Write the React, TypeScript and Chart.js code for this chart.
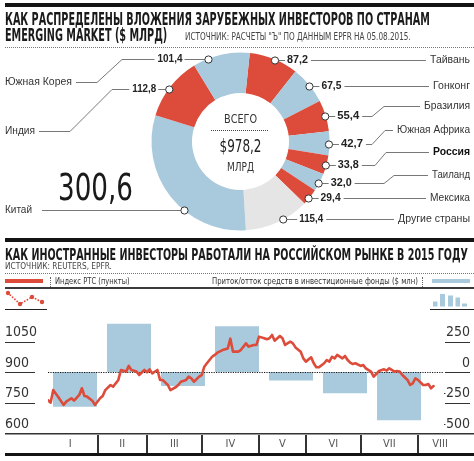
import React, { useEffect, useLayoutEffect, useRef, useState } from 'react';
import { Chart, registerables } from 'chart.js';

Chart.register(...registerables);

// ---------------- data ----------------
const countries = ['Тайвань', 'Гонконг', 'Бразилия', 'Южная Африка', 'Россия', 'Таиланд', 'Мексика', 'Другие страны', 'Китай', 'Индия', 'Южная Корея'];
const investments = [87.2, 67.5, 55.4, 42.7, 33.8, 32.0, 29.4, 115.4, 300.6, 112.8, 101.4];
const totalInvestment = 978.2;

const monthLabels = ['I', 'II', 'III', 'IV', 'V', 'VI', 'VII', 'VIII'];
// trading-day index where each month starts (last entry closes VIII)
const monthBoundaryDays = [-2, 19, 38, 59, 81, 99, 120, 142, 159];
const flowMonths = [0, 1, 2, 3, 4, 5, 6];
const fundFlows = [-285, 395, -115, 375, -70, -175, -395];

const rtsDay = [
  0, 1, 2, 4, 6, 7, 9, 10, 12, 13,
  14, 15, 17, 18, 20, 21, 22, 24, 25, 27,
  28, 30, 31, 32, 34, 35, 37, 38, 39, 40,
  42, 43, 44, 46, 47, 49, 50, 51, 53, 54,
  55, 56, 58, 59, 60, 61, 63, 64, 65, 67,
  69, 70, 71, 73, 74, 76, 77, 79, 80, 81,
  83, 84, 85, 86, 87, 89, 90, 91, 93, 94,
  95, 97, 98, 99, 101, 102, 103, 104, 106, 107,
  108, 109, 110, 111, 113, 114, 115, 116, 117, 118,
  120, 121, 122, 124, 125, 126, 127, 129, 130, 131,
  133, 134, 135, 136, 138, 139, 140, 141, 142, 144,
  145, 146, 147, 148,
];
const rtsValue = [
  762, 749, 811, 776, 738, 754, 771, 759, 787, 820,
  782, 779, 759, 738, 771, 782, 811, 836, 828, 861,
  910, 902, 930, 910, 902, 885, 910, 898, 913, 893,
  910, 861, 861, 836, 811, 825, 836, 852, 861, 877,
  869, 852, 877, 885, 926, 943, 975, 984, 995, 1008,
  1016, 1064, 1000, 1000, 1008, 1041, 1025, 1033, 1033, 1074,
  1066, 1061, 1066, 1082, 1054, 1077, 1066, 1033, 1049, 1041,
  1021, 1000, 967, 951, 972, 943, 923, 923, 943, 959,
  951, 975, 967, 984, 967, 979, 959, 946, 939, 943,
  930, 934, 918, 902, 877, 890, 905, 913, 907, 918,
  902, 905, 902, 885, 861, 836, 844, 869, 861, 836,
  836, 841, 820, 831,
];
const rtsTicks = [600, 750, 900, 1050];
const flowTicks = [-500, -250, 0, 250];

// ---------------- styles ----------------
const RED = 'rgb(221,76,58)';
const BLUE = 'rgb(169,201,220)';
const GRAY = 'rgb(229,229,229)';
const sliceColors = [RED, BLUE, RED, BLUE, RED, BLUE, RED, GRAY, BLUE, RED, BLUE];
const NARROW = '"Liberation Sans Narrow", "DejaVu Sans Condensed", "Arial Narrow", sans-serif';
const SANS = '"Liberation Sans", Arial, sans-serif';

type LabelLayout = {
  side: 'L' | 'R'; y: number; nameY: number; nameW: number; valW?: number;
  bend?: [number, number]; gap?: number; bold?: boolean; big?: boolean; nameGap?: number;
};
// label layout per slice, same order as countries
const donutLabels: LabelLayout[] = [
  { side: 'R', y: 60, nameY: 60, nameW: 40, valW: 21 },
  { side: 'R', y: 86, nameY: 86, nameW: 37, valW: 20 },
  { side: 'R', y: 116, nameY: 106, bend: [372, 384], nameW: 46, valW: 22 },
  { side: 'R', y: 144, nameY: 130, bend: [372, 385], nameW: 73, valW: 22 },
  { side: 'R', y: 165, nameY: 152, bend: [375, 386], nameW: 37, valW: 21, bold: true },
  { side: 'R', y: 183, nameY: 175, bend: [384, 394], nameW: 38, valW: 21 },
  { side: 'R', y: 198, nameY: 198, nameW: 40, valW: 20 },
  { side: 'R', y: 219, nameY: 219, nameW: 72, valW: 24, gap: 16 },
  { side: 'L', y: 210, nameY: 210, nameW: 27, big: true, nameGap: 10 },
  { side: 'L', y: 89, nameY: 131, bend: [112, 70], nameW: 30, valW: 24, gap: 13 },
  { side: 'L', y: 59, nameY: 82, bend: [122, 97], nameW: 67, valW: 25, gap: 26 },
];

const fmt = (v: number) => v.toFixed(1).replace('.', ',');

function drawText(ctx: CanvasRenderingContext2D, text: string, x: number, y: number,
  o: { font: string; color: string; align: 'left' | 'right' | 'center'; width?: number }) {
  ctx.save();
  ctx.font = o.font;
  ctx.fillStyle = o.color;
  ctx.textBaseline = 'middle';
  ctx.textAlign = 'left';
  const nat = ctx.measureText(text).width;
  const sx = o.width ? o.width / nat : 1;
  const w = nat * sx;
  const left = o.align === 'left' ? x : o.align === 'right' ? x - w : x - w / 2;
  ctx.translate(left, y);
  ctx.scale(sx, 1);
  ctx.fillText(text, 0, 0);
  ctx.restore();
  return w;
}

function poly(ctx: CanvasRenderingContext2D, pts: number[][]) {
  ctx.beginPath();
  ctx.moveTo(pts[0][0], pts[0][1] + 0.5);
  for (let i = 1; i < pts.length; i++) ctx.lineTo(pts[i][0], pts[i][1] + 0.5);
  ctx.stroke();
}

const donutLabelPlugin = {
  id: 'donutLabels',
  afterDraw(chart: any) {
    const ctx: CanvasRenderingContext2D = chart.ctx;
    const arcs = chart.getDatasetMeta(0).data;
    if (!arcs.length) return;
    const a0 = arcs[0];
    const cx = a0.x, cy = a0.y, R = a0.outerRadius;

    // center
    drawText(ctx, 'ВСЕГО', cx, 120, { font: `12px ${NARROW}`, color: '#333', align: 'center', width: 33 });
    ctx.save();
    ctx.strokeStyle = '#444'; ctx.lineWidth = 1; ctx.setLineDash([1, 1]);
    ctx.beginPath(); ctx.moveTo(211, 130.5); ctx.lineTo(268, 130.5); ctx.stroke();
    ctx.restore();
    drawText(ctx, '$' + fmt(totalInvestment), cx, 147, { font: `18px ${NARROW}`, color: '#222', align: 'center', width: 42 });
    drawText(ctx, 'МЛРД', cx, 168, { font: `12px ${NARROW}`, color: '#333', align: 'center', width: 27 });

    const rm = R - 0.5;
    ctx.save();
    ctx.strokeStyle = '#777';
    ctx.lineWidth = 1;
    donutLabels.forEach((L, i) => {
      const dy = L.y - cy;
      const dx = Math.sqrt(Math.max(rm * rm - dy * dy, 0));
      const mx = L.side === 'R' ? cx + dx : cx - dx;
      const val = fmt(investments[i]);
      const nameFont = `${L.bold ? 'bold ' : ''}11.5px ${SANS}`;
      const nameColor = L.bold ? '#111' : '#333';
      const valFont = `bold 11.5px ${SANS}`;
      if (L.side === 'R') {
        const vx = mx + (L.gap ?? 12);
        poly(ctx, [[mx, L.y], [vx - 2, L.y]]);
        const vw = drawText(ctx, val, vx, L.y, { font: valFont, color: '#222', align: 'left', width: L.valW });
        const nameX = 470 - L.nameW;
        const pts: number[][] = [[vx + vw + 3, L.y]];
        if (L.bend) { pts.push([L.bend[0], L.y]); pts.push([L.bend[1], L.nameY]); }
        pts.push([nameX - 4, L.nameY]);
        poly(ctx, pts);
        drawText(ctx, countries[i], 470, L.nameY, { font: nameFont, color: nameColor, align: 'right', width: L.nameW });
      } else if (L.big) {
        drawText(ctx, countries[i], 5, L.nameY, { font: nameFont, color: nameColor, align: 'left', width: L.nameW });
        poly(ctx, [[5 + L.nameW + (L.nameGap ?? 4), L.y], [mx, L.y]]);
        drawText(ctx, val, 58, 190, { font: `37px ${NARROW}`, color: '#1a1a1a', align: 'left', width: 75 });
      } else {
        const vr = mx - (L.gap ?? 12);
        poly(ctx, [[mx, L.y], [vr + 2, L.y]]);
        const vw = drawText(ctx, val, vr, L.y, { font: valFont, color: '#222', align: 'right', width: L.valW });
        const pts: number[][] = [[vr - vw - 3, L.y]];
        if (L.bend) { pts.push([L.bend[0], L.y]); pts.push([L.bend[1], L.nameY]); }
        pts.push([5 + L.nameW + 4, L.nameY]);
        poly(ctx, pts);
        drawText(ctx, countries[i], 5, L.nameY, { font: nameFont, color: nameColor, align: 'left', width: L.nameW });
      }
      ctx.save();
      ctx.fillStyle = '#fff'; ctx.strokeStyle = '#333'; ctx.lineWidth = 1;
      ctx.beginPath(); ctx.arc(mx, L.y + 0.5, 3.6, 0, Math.PI * 2); ctx.fill(); ctx.stroke();
      ctx.restore();
    });
    ctx.restore();
  },
};

const barDecorPlugin = {
  id: 'barDecor',
  beforeDatasetDraw(chart: any, args: any) {
    if (args.index !== 0) return;
    const { ctx, chartArea } = chart;
    const y0 = Math.round(chart.scales.y1.getPixelForValue(0)) + 0.5;
    ctx.save();
    ctx.strokeStyle = '#1a1a1a'; ctx.lineWidth = 1.2; ctx.setLineDash([1.2, 1.2]);
    ctx.beginPath(); ctx.moveTo(chartArea.left, y0); ctx.lineTo(chartArea.right, y0); ctx.stroke();
    ctx.restore();
  },
  afterDraw(chart: any) {
    const { ctx } = chart;
    const yS = chart.scales.y, y1S = chart.scales.y1, x2 = chart.scales.x2;
    ctx.save();
    ctx.fillStyle = '#333';
    rtsTicks.forEach((v) => { if (v === yS.min) return; const p = Math.round(yS.getPixelForValue(v)); ctx.fillRect(5, p, 30, 1); });
    flowTicks.forEach((v) => { if (v === y1S.min) return; const p = Math.round(y1S.getPixelForValue(v)); ctx.fillRect(445, p, 25, 1); });
    const base = Math.round(yS.getPixelForValue(yS.min));
    ctx.fillRect(5, base, 469, 1.5);
    for (let i = 1; i < monthBoundaryDays.length - 1; i++) {
      const x = Math.round(x2.getPixelForValue(monthBoundaryDays[i]));
      ctx.fillRect(x - 1, base + 2, 2, 18);
    }
    ctx.fillStyle = '#141414';
    ctx.fillRect(5, base + 20, 469, 3);
    ctx.restore();
  },
};

function FitText({ x, base, size, w, bold, color = '#222', family = NARROW, children }: any) {
  const ref = useRef<HTMLSpanElement>(null);
  const [sx, setSx] = useState(1);
  useLayoutEffect(() => {
    const el = ref.current;
    if (el && el.offsetWidth > 0) setSx(w / el.offsetWidth);
  }, [w]);
  return (
    <span ref={ref} style={{
      position: 'absolute', left: x, top: base - 0.8465 * size, fontFamily: family, fontSize: size,
      lineHeight: `${size}px`, fontWeight: bold ? 700 : 400, color, whiteSpace: 'nowrap',
      transform: `scaleX(${sx})`, transformOrigin: '0 0', display: 'block',
    }}>{children}</span>
  );
}

const box = (left: number, top: number, width: number, height: number, background: string) => (
  <div style={{ position: 'absolute', left, top, width, height, background }} />
);

export default function App() {
  const donutRef = useRef<HTMLCanvasElement>(null);
  const barRef = useRef<HTMLCanvasElement>(null);

  useEffect(() => {
    const donut = new Chart(donutRef.current!, {
      type: 'doughnut',
      data: {
        labels: countries,
        datasets: [{ data: investments, backgroundColor: sliceColors, borderWidth: 0, hoverOffset: 0, offset: 0 }],
      },
      options: {
        responsive: false, animation: false, events: [],
        rotation: 6, cutout: '54.5%',
        layout: { padding: { left: 151.5, right: 144.5, top: 52.5, bottom: 230.5 } },
        plugins: { legend: { display: false }, tooltip: { enabled: false } },
      },
      plugins: [donutLabelPlugin],
    } as any);

    const lineData = rtsDay.map((d, i) => ({ x: d, y: rtsValue[i] }));
    const barData = flowMonths.map((m, i) => ({ x: m, y: fundFlows[i] }));
    const combo = new Chart(barRef.current!, {
      type: 'bar',
      data: {
        datasets: [
          {
            type: 'line', label: 'Индекс РТС (пункты)', data: lineData, xAxisID: 'x2', yAxisID: 'y',
            borderColor: RED, borderWidth: 2.6, pointRadius: 0, tension: 0, fill: false,
            borderJoinStyle: 'round', borderCapStyle: 'round',
          },
          {
            type: 'bar', label: 'Приток/отток средств в инвестиционные фонды ($ млн)', data: barData,
            xAxisID: 'xb', yAxisID: 'y1', backgroundColor: BLUE, borderWidth: 0,
            grouped: false, barPercentage: 0.815, categoryPercentage: 1,
          },
        ],
      },
      options: {
        responsive: false, animation: false, events: [],
        layout: { padding: { left: 5, right: 4, top: 311, bottom: 8 } },
        plugins: { legend: { display: false }, tooltip: { enabled: false } },
        scales: {
          x2: {
            type: 'linear', position: 'bottom', min: 0, max: 152, offset: false,
            grid: { display: false, drawTicks: false, offset: false }, border: { display: false },
            afterBuildTicks: (s: any) => {
              s.ticks = monthLabels.map((_, i) => ({ value: (monthBoundaryDays[i] + monthBoundaryDays[i + 1]) / 2 }));
            },
            afterFit: (s: any) => { s.height = 20; },
            ticks: {
              autoSkip: false, maxRotation: 0, minRotation: 0, padding: 6, color: '#555',
              font: { family: NARROW, size: 11, lineHeight: 1 },
              callback: (_v: any, i: number) => monthLabels[i],
            },
          },
          xb: {
            type: 'linear', display: false, min: -0.5, max: 6.833, offset: false, grid: { offset: false },
            afterBuildTicks: (s: any) => { s.ticks = flowMonths.map((v) => ({ value: v })); },
          },
          y: {
            type: 'linear', position: 'left', min: 600, max: 1200,
            grid: { display: false, drawTicks: false }, border: { display: false },
            afterBuildTicks: (s: any) => { s.ticks = rtsTicks.map((v) => ({ value: v })); },
            afterFit: (s: any) => { s.width = 43; },
            ticks: {
              crossAlign: 'far', labelOffset: -9, padding: 0, color: '#333',
              font: { family: NARROW, size: 14 }, callback: (v: any) => String(v),
            },
          },
          y1: {
            type: 'linear', position: 'right', min: -500, max: 500,
            grid: { display: false, drawTicks: false }, border: { display: false },
            afterBuildTicks: (s: any) => { s.ticks = flowTicks.map((v) => ({ value: v })); },
            afterFit: (s: any) => { s.width = 26; },
            ticks: {
              crossAlign: 'far', labelOffset: -9, padding: 0, color: '#333',
              font: { family: NARROW, size: 14 },
              callback: (v: any) => (v < 0 ? '\u2013' + Math.abs(v) : String(v)),
            },
          },
        },
      },
      plugins: [barDecorPlugin],
    } as any);

    return () => { donut.destroy(); combo.destroy(); };
  }, []);

  return (
    <div style={{ position: 'absolute', left: 0, top: 0, width: 474, height: 461, background: '#fff', overflow: 'hidden' }}>
      <canvas ref={donutRef} width={474} height={461} style={{ position: 'absolute', left: 0, top: 0, width: 474, height: 461 }} />
      <canvas ref={barRef} width={474} height={461} style={{ position: 'absolute', left: 0, top: 0, width: 474, height: 461 }} />

      {box(5, 3, 469, 4, '#141414')}
      <FitText x={5} base={25.7} size={17} w={425} bold color="#1a1a1a">КАК РАСПРЕДЕЛЕНЫ ВЛОЖЕНИЯ ЗАРУБЕЖНЫХ ИНВЕСТОРОВ ПО СТРАНАМ</FitText>
      <FitText x={5} base={41.5} size={17} w={162} bold color="#1a1a1a">EMERGING MARKET ($ МЛРД)</FitText>
      <FitText x={185} base={40.7} size={10} w={226} color="#444">ИСТОЧНИК: РАСЧЕТЫ "Ъ" ПО ДАННЫМ EPFR НА 05.08.2015.</FitText>
      <div style={{ position: 'absolute', left: 5, top: 47, width: 469, borderTop: '1px dotted #777' }} />

      {box(5, 238, 469, 4, '#141414')}
      <FitText x={5} base={260.7} size={15} w={463} bold color="#1a1a1a">КАК ИНОСТРАННЫЕ ИНВЕСТОРЫ РАБОТАЛИ НА РОССИЙСКОМ РЫНКЕ В 2015 ГОДУ</FitText>
      <FitText x={5} base={270} size={9} w={107} color="#444">ИСТОЧНИК: REUTERS, EPFR.</FitText>
      <div style={{ position: 'absolute', left: 5, top: 273, width: 469, borderTop: '1px dotted #777' }} />

      {box(5, 279, 38, 4, RED)}
      <div style={{ position: 'absolute', left: 50, top: 277, height: 10, borderLeft: '1px dotted #666' }} />
      <FitText x={55} base={285} size={9} w={75} color="#333">Индекс РТС (пункты)</FitText>
      <FitText x={212} base={285} size={9} w={206} color="#333">Приток/отток средств в инвестиционные фонды ($ млн)</FitText>
      <div style={{ position: 'absolute', left: 422, top: 277, height: 10, borderLeft: '1px dotted #666' }} />
      {box(432, 279, 38, 4, BLUE)}
      {box(5, 287, 469, 2, '#3a3a3a')}

      <svg width={474} height={461} style={{ position: 'absolute', left: 0, top: 0, pointerEvents: 'none' }}>
        <polyline points="8,293 20,304 32,297 42,302" fill="none" stroke={RED} strokeWidth={1.8}
          strokeDasharray="0.1 3" strokeLinecap="round" />
        {[[8, 293], [20, 304], [32, 297], [42, 302]].map((p, i) => (
          <circle key={i} cx={p[0]} cy={p[1]} r={2.2} fill={RED} />
        ))}
        <rect x={433} y={301.5} width={4.5} height={5} fill={BLUE} />
        <rect x={440} y={294} width={5} height={12.5} fill={BLUE} />
        <rect x={448} y={295.5} width={5} height={11} fill={BLUE} />
        <rect x={455.5} y={297.5} width={4.5} height={9} fill={BLUE} />
        <rect x={462} y={303.5} width={5} height={3} fill={BLUE} />
      </svg>
      {box(5, 309, 42, 1, '#222')}
      {box(430, 309, 44, 1, '#222')}
    </div>
  );
}
